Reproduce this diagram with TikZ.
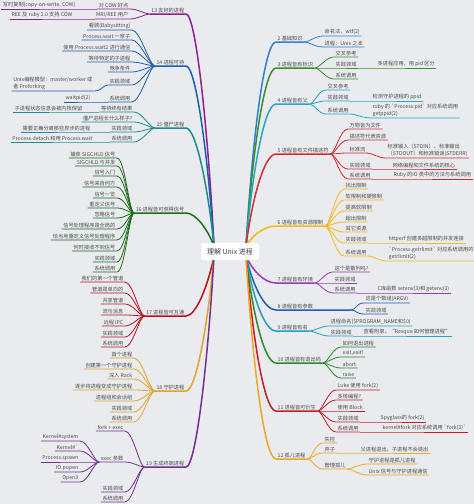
\documentclass[tikz,border=0pt]{standalone}
\usepackage{fontspec}
\setmainfont{Noto Sans CJK SC}
\definecolor{paper}{HTML}{E9EBEE}
\definecolor{c2}{HTML}{2F80D1}
\definecolor{c3}{HTML}{3A8E2C}
\definecolor{c4}{HTML}{22A7CB}
\definecolor{c5}{HTML}{D92A33}
\definecolor{c6}{HTML}{F6B81A}
\definecolor{c7}{HTML}{9A38B5}
\definecolor{c8}{HTML}{235FAE}
\definecolor{c9}{HTML}{20A2BE}
\definecolor{c10}{HTML}{2F8A2A}
\definecolor{c11}{HTML}{CB1B24}
\definecolor{c12}{HTML}{EBA923}
\definecolor{c13}{HTML}{8F2190}
\definecolor{c14}{HTML}{1E5EAD}
\definecolor{c15}{HTML}{1A8C93}
\definecolor{c16}{HTML}{1C6E1A}
\definecolor{c17}{HTML}{B5141F}
\definecolor{c18}{HTML}{E3A42A}
\definecolor{c19}{HTML}{74308E}
\tikzset{
  every node/.style={font=\fontsize{5.2}{7.2}\selectfont, text=black!70, inner xsep=1.5pt, inner ysep=1pt, align=left},
  rt/.style={anchor=south west},
  lt/.style={anchor=south east},
  trunk/.style={line width=1.5pt},
  twig/.style={line width=0.8pt},
  root/.style={fill=white, rounded corners=2.5pt, minimum width=58pt, minimum height=17pt, font=\fontsize{7}{8}\selectfont, text=black!75}
}
\begin{document}
\begin{tikzpicture}[x=1pt,y=-1pt]
	\fill[paper] (0,0) rectangle (474,504);
	\useasboundingbox (0,0) rectangle (474,504);
	\coordinate (ru) at (246,246);
	\coordinate (rd) at (246,256);
	\coordinate (lu) at (214,246);
	\coordinate (ld) at (214,256);
	%
	% 2
	\node[rt] (b2) at (276,42) {2 基础知识};
	\draw[c2,trunk] (ru) .. controls (252,144) and (264,42) .. (b2.south west) -- (b2.south east);
	\foreach \n/\y/\t in {a/36/命名法，wtf(2), b/47/进程：Unix 之本}{
		\node[rt] (b2\n) at (323,\y) {\t};
		\draw[c2,twig] (b2.south east) .. controls +(5,0) and +(-8,0) .. (b2\n.south west) -- (b2\n.south east);}
	%
	% 3
	\node[rt] (b3) at (276,68) {3 进程皆有标识};
	\draw[c3,trunk] (ru) .. controls (252,157) and (264,68) .. (b3.south west) -- (b3.south east);
	\foreach \n/\y/\t in {a/57/交叉参考, b/68/实践领域, c/79/系统调用}{
		\node[rt] (b3\n) at (334,\y) {\t};
		\draw[c3,twig] (b3.south east) .. controls +(5,0) and +(-8,0) .. (b3\n.south west) -- (b3\n.south east);}
	\node[rt] (b3b1) at (376,68) {多进程应用，用 pid 区分};
	\draw[c3,twig] (b3b.south east) -- (b3b1.south west) -- (b3b1.south east);
	%
	% 4
	\node[rt] (b4) at (276,104) {4 进程皆有父};
	\draw[c4,trunk] (ru) .. controls (252,175) and (264,104) .. (b4.south west) -- (b4.south east);
	\foreach \n/\y/\t in {a/90/交叉参考, b/101/实践领域, c/114/系统调用}{
		\node[rt] (b4\n) at (326,\y) {\t};
		\draw[c4,twig] (b4.south east) .. controls +(5,0) and +(-8,0) .. (b4\n.south west) -- (b4\n.south east);}
	\node[rt] (b4b1) at (371,101) {检测守护进程的 ppid};
	\draw[c4,twig] (b4b.south east) -- (b4b1.south west) -- (b4b1.south east);
	\node[rt] (b4c1) at (371,118) {ruby 的 \textasciigrave Process.pid\textasciigrave\ 对应系统调用\\getppid(2)};
	\draw[c4,twig] (b4c.south east) .. controls +(5,0) and +(-8,0) .. (b4c1.south west) -- (b4c1.south east);
	%
	% 5
	\node[rt] (b5) at (276,154) {5 进程皆有文件描述符};
	\draw[c5,trunk] (ru) .. controls (252,200) and (264,154) .. (b5.south west) -- (b5.south east);
	\foreach \n/\y/\t in {a/129/万物皆为文件, b/140/描述符代表资源, c/153/标准流, d/169/实践领域, e/179/系统调用}{
		\node[rt] (b5\n) at (348,\y) {\t};
		\draw[c5,twig] (b5.south east) .. controls +(5,0) and +(-8,0) .. (b5\n.south west) -- (b5\n.south east);}
	\node[rt] (b5c1) at (386,158) {标准输入（STDIN）、标准输出\\（STDOUT）和标准错误(STDERR)};
	\draw[c5,twig] (b5c.south east) .. controls +(5,0) and +(-8,0) .. (b5c1.south west) -- (b5c1.south east);
	\node[rt] (b5d1) at (391,169) {网络编程和文件系统的核心};
	\draw[c5,twig] (b5d.south east) -- (b5d1.south west) -- (b5d1.south east);
	\node[rt] (b5e1) at (392,179) {Ruby 的IO 类中的方法与系统调用};
	\draw[c5,twig] (b5e.south east) -- (b5e1.south west) -- (b5e1.south east);
	%
	% 6
	\node[rt] (b6) at (276,226) {6 进程皆有资源限制};
	\draw[c6,trunk] (ru) .. controls (252,236) and (264,226) .. (b6.south west) -- (b6.south east);
	\foreach \n/\y/\t in {a/189/找出限制, b/200/软限制和硬限制, c/211/提高软限制, d/222/超出限制, e/232/其它资源, f/243/实践领域, g/256/系统调用}{
		\node[rt] (b6\n) at (344,\y) {\t};
		\draw[c6,twig] (b6.south east) .. controls +(5,0) and +(-8,0) .. (b6\n.south west) -- (b6\n.south east);}
	\node[rt] (b6f1) at (387,243) {httperf 创建多超限制的并发连接};
	\draw[c6,twig] (b6f.south east) -- (b6f1.south west) -- (b6f1.south east);
	\node[rt] (b6g1) at (387,261) {\textasciigrave Process.getrlimit\textasciigrave\ 对应系统调用的\\getrlimit(2)};
	\draw[c6,twig] (b6g.south east) .. controls +(5,0) and +(-8,0) .. (b6g1.south west) -- (b6g1.south east);
	%
	% 7
	\node[rt] (b7) at (276,283) {7 进程皆有环境};
	\draw[c7,trunk] (rd) .. controls (252,270) and (264,283) .. (b7.south west) -- (b7.south east);
	\foreach \n/\y/\t in {a/272/这个是散列吗?, b/283/实践领域, c/293/系统调用}{
		\node[rt] (b7\n) at (333,\y) {\t};
		\draw[c7,twig] (b7.south east) .. controls +(5,0) and +(-8,0) .. (b7\n.south west) -- (b7\n.south east);}
	\node[rt] (b7c1) at (376,293) {C库函数 setenv(3)和 getenv(3)};
	\draw[c7,twig] (b7c.south east) -- (b7c1.south west) -- (b7c1.south east);
	%
	% 8
	\node[rt] (b8) at (276,310) {8 进程皆有参数};
	\coordinate (b8h) at (351,310);
	\draw[c8,trunk] (rd) .. controls (252,283) and (264,310) .. (b8.south west) -- (b8h);
	\foreach \n/\y/\t in {a/303/这是个数组(ARGV), b/314/实践领域}{
		\node[rt] (b8\n) at (364,\y) {\t};
		\draw[c8,twig] (b8h) .. controls +(5,0) and +(-8,0) .. (b8\n.south west) -- (b8\n.south east);}
	%
	% 9
	\node[rt] (b9) at (276,331) {9 进程皆有名};
	\draw[c9,trunk] (rd) .. controls (252,294) and (264,331) .. (b9.south west) -- (b9.south east);
	\foreach \n/\y/\t in {a/326/进程命名(\$PROGRAM\_NAME和\$0), b/336/实践领域}{
		\node[rt] (b9\n) at (329,\y) {\t};
		\draw[c9,twig] (b9.south east) .. controls +(5,0) and +(-8,0) .. (b9\n.south west) -- (b9\n.south east);}
	\node[rt] (b9b1) at (362,336) {查看附录，“Resque 如何管理进程”};
	\draw[c9,twig] (b9b.south east) -- (b9b1.south west) -- (b9b1.south east);
	%
	% 10
	\node[rt] (b10) at (276,363) {10 进程皆有退出码};
	\draw[c10,trunk] (rd) .. controls (252,310) and (264,363) .. (b10.south west) -- (b10.south east);
	\foreach \n/\y/\t in {a/347/如何退出进程, b/357/{exit,exit!}, c/368/abort, d/378/raise}{
		\node[rt] (b10\n) at (341,\y) {\t};
		\draw[c10,twig] (b10.south east) .. controls +(5,0) and +(-8,0) .. (b10\n.south west) -- (b10\n.south east);}
	%
	% 11
	\node[rt] (b11) at (276,411) {11 进程皆可衍生};
	\draw[c11,trunk] (rd) .. controls (252,334) and (264,411) .. (b11.south west) -- (b11.south east);
	\foreach \n/\y/\t in {a/390/Luke 使用 fork(2), b/400/多核编程?, c/411/使用 Block, d/422/实践领域, e/432/系统调用}{
		\node[rt] (b11\n) at (336,\y) {\t};
		\draw[c11,twig] (b11.south east) .. controls +(5,0) and +(-8,0) .. (b11\n.south west) -- (b11\n.south east);}
	\node[rt] (b11d1) at (379,422) {Spyglass的 fork(2)};
	\draw[c11,twig] (b11d.south east) -- (b11d1.south west) -- (b11d1.south east);
	\node[rt] (b11e1) at (381,432) {kernel\#fork 对应系统调用 \textasciigrave fork(2)\textasciigrave};
	\draw[c11,twig] (b11e.south east) -- (b11e1.south west) -- (b11e1.south east);
	%
	% 12
	\node[rt] (b12) at (276,459) {12 孤儿进程};
	\draw[c12,trunk] (rd) .. controls (252,358) and (264,459) .. (b12.south west) -- (b12.south east);
	\foreach \n/\y/\t in {a/443/失控, b/453/弃子, c/469/管理孤儿}{
		\node[rt] (b12\n) at (323,\y) {\t};
		\draw[c12,twig] (b12.south east) .. controls +(5,0) and +(-8,0) .. (b12\n.south west) -- (b12\n.south east);}
	\node[rt] (b12b1) at (359,453) {父进程退出，子进程不会退出};
	\draw[c12,twig] (b12b.south east) -- (b12b1.south west) -- (b12b1.south east);
	\foreach \n/\y/\t in {1/464/守护进程是孤儿进程, 2/475/Unix 信号与守护进程通信}{
		\node[rt] (b12c\n) at (367,\y) {\t};
		\draw[c12,twig] (b12c.south east) .. controls +(5,0) and +(-8,0) .. (b12c\n.south west) -- (b12c\n.south east);}
	%
	% 13
	\node[lt] (b13) at (186,14) {13 友好的进程};
	\draw[c13,trunk] (lu) .. controls (208,130) and (196,14) .. (b13.south east) -- (b13.south west);
	\foreach \n/\y/\t in {a/9/对 COW 好点, b/19/{MRI/REE 用户}}{
		\node[lt] (b13\n) at (130,\y) {\t};
		\draw[c13,twig] (b13.south west) .. controls +(-5,0) and +(8,0) .. (b13\n.south east) -- (b13\n.south west);}
	\node[lt] (b13a1) at (77,9) {写时复制(copy-on-write, COW)};
	\draw[c13,twig] (b13a.south west) -- (b13a1.south east) -- (b13a1.south west);
	\node[lt] (b13b1) at (74,19) {REE 及 ruby 2.0 支持 COW};
	\draw[c13,twig] (b13b.south west) -- (b13b1.south east) -- (b13b1.south west);
	%
	% 14
	\node[lt] (b14) at (186,66) {14 进程可待};
	\draw[c14,trunk] (lu) .. controls (208,156) and (196,66) .. (b14.south east) -- (b14.south west);
	\foreach \n/\y/\t in {a/30/看顾(Babysitting), b/40/Process.wait 一家子, c/51/使用 Process.wait2 进行通信, d/62/等待特定的子进程, e/72/竞争条件, f/85/实践领域, g/102/系统调用}{
		\node[lt] (b14\n) at (132,\y) {\t};
		\draw[c14,twig] (b14.south west) .. controls +(-5,0) and +(8,0) .. (b14\n.south east) -- (b14\n.south west);}
	\node[lt] (b14f1) at (94,91) {Unix编程模型：master/worker 或\\者 Preforking};
	\draw[c14,twig] (b14f.south west) .. controls +(-5,0) and +(8,0) .. (b14f1.south east) -- (b14f1.south west);
	\node[lt] (b14g1) at (92,102) {waitpid(2)};
	\draw[c14,twig] (b14g.south west) -- (b14g1.south east) -- (b14g1.south west);
	%
	% 15
	\node[lt] (b15) at (186,128) {15 僵尸进程};
	\draw[c15,trunk] (lu) .. controls (208,187) and (196,128) .. (b15.south east) -- (b15.south west);
	\foreach \n/\y/\t in {a/112/等待终有结果, b/122/僵尸进程长什么样子?, c/132/实践领域, d/142/系统调用}{
		\node[lt] (b15\n) at (134,\y) {\t};
		\draw[c15,twig] (b15.south west) .. controls +(-5,0) and +(8,0) .. (b15\n.south east) -- (b15\n.south west);}
	\node[lt] (b15a1) at (84,112) {子进程状态信息会被内核保留};
	\draw[c15,twig] (b15a.south west) -- (b15a1.south east) -- (b15a1.south west);
	\node[lt] (b15c1) at (92,132) {需要正确分离那些异步的进程};
	\draw[c15,twig] (b15c.south west) -- (b15c1.south east) -- (b15c1.south west);
	\node[lt] (b15d1) at (94,142) {Process.detach 和用 Process.wait};
	\draw[c15,twig] (b15d.south west) -- (b15d1.south east) -- (b15d1.south west);
	%
	% 16
	\node[lt] (b16) at (186,213) {16 进程皆可获得信号};
	\draw[c16,trunk] (lu) .. controls (208,230) and (196,213) .. (b16.south east) -- (b16.south west);
	\foreach \n/\y/\t in {a/158/捕获 SIGCHLD 信号, b/166/SIGCHLD 与并发, c/176/信号入门, d/187/信号来自何方, e/198/信号一览, f/208/重定义信号, g/218/忽略信号, h/229/信号处理程序是全局的, i/240/恰当地重定义信号处理程序, j/251/何时接收不到信号, k/262/实践领域, l/272/系统调用}{
		\node[lt] (b16\n) at (117,\y) {\t};
		\draw[c16,twig] (b16.south west) .. controls +(-5,0) and +(8,0) .. (b16\n.south east) -- (b16\n.south west);}
	%
	% 17
	\node[lt] (b17) at (186,316) {17 进程皆可互通};
	\draw[c17,trunk] (ld) .. controls (208,286) and (196,316) .. (b17.south east) -- (b17.south west);
	\foreach \n/\y/\t in {a/282/我们的第一个管道, b/293/管道是单向的, c/304/共享管道, d/315/流与消息, e/326/远程 IPC, f/337/实践领域, g/347/系统调用}{
		\node[lt] (b17\n) at (125,\y) {\t};
		\draw[c17,twig] (b17.south west) .. controls +(-5,0) and +(8,0) .. (b17\n.south east) -- (b17\n.south west);}
	%
	% 18
	\node[lt] (b18) at (186,391) {18 守护进程};
	\draw[c18,trunk] (ld) .. controls (208,324) and (196,391) .. (b18.south east) -- (b18.south west);
	\foreach \n/\y/\t in {a/358/首个进程, b/369/创建第一个守护进程, c/379/深入 Rack, d/390/逐步将进程变成守护进程, e/401/进程组和会话组, f/412/实践领域, g/422/系统调用}{
		\node[lt] (b18\n) at (134,\y) {\t};
		\draw[c18,twig] (b18.south west) .. controls +(-5,0) and +(8,0) .. (b18\n.south east) -- (b18\n.south west);}
	%
	% 19
	\node[lt] (b19) at (186,467) {19 生成终端进程};
	\draw[c19,trunk] (ld) .. controls (208,362) and (196,467) .. (b19.south east) -- (b19.south west);
	\foreach \n/\y/\t in {a/431/fork + exec, b/462/exec 参数, c/492/实践领域, d/502/系统调用}{
		\node[lt] (b19\n) at (125,\y) {\t};
		\draw[c19,twig] (b19.south west) .. controls +(-5,0) and +(8,0) .. (b19\n.south east) -- (b19\n.south west);}
	\foreach \n/\y/\t in {1/441/Kernel\#system, 2/451/Kernel\#\textasciigrave, 3/462/Process.spawn, 4/472/IO.popen, 5/482/Open3}{
		\node[lt] (b19b\n) at (80,\y) {\t};
		\draw[c19,twig] (b19b.south west) .. controls +(-5,0) and +(8,0) .. (b19b\n.south east) -- (b19b\n.south west);}
	%
	\node[root] (root) at (230,251.5) {理解 Unix 进程};
\end{tikzpicture}
\end{document}
